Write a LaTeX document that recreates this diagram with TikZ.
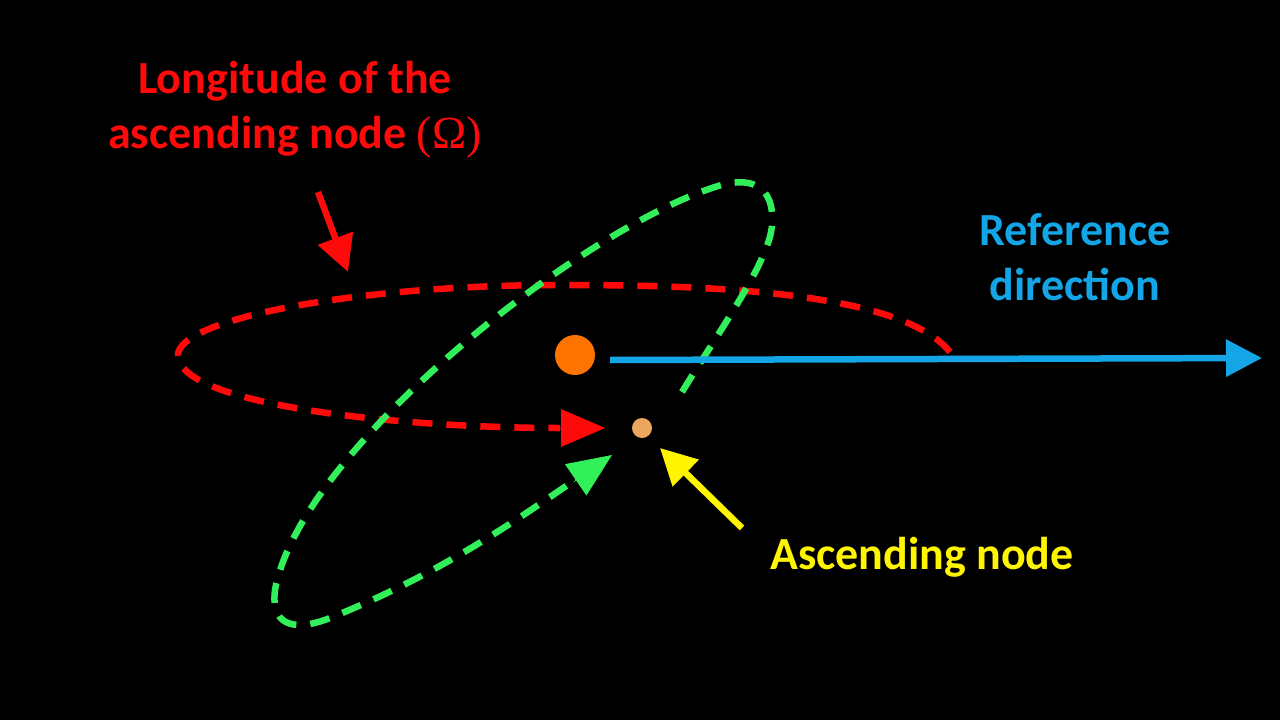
\documentclass[tikz,border=0pt]{standalone}
\usepackage{fontspec}
\setmainfont{Carlito}
\usetikzlibrary{arrows.meta}
\definecolor{rd}{RGB}{255,10,10}
\definecolor{gr}{RGB}{50,240,90}
\definecolor{bl}{RGB}{20,165,230}
\definecolor{yl}{RGB}{255,245,0}
\tikzset{orbit/.style={line width=6.5pt,dash pattern=on 20pt off 14pt},
 lbl/.style={font=\fontsize{46}{55}\selectfont\bfseries,align=center,inner sep=0},
 ptr/.style={line width=6.5pt,-{Triangle[length=36pt,width=36pt]}},
 optr/.style={line width=0pt,-{Triangle[length=44pt,width=38pt]}}}
\begin{document}
\begin{tikzpicture}[x=1pt,y=-1pt]
\fill[black] (0,0) rectangle (1280,720);
\coordinate (rs) at (950,352);
\coordinate (rt) at (605,428);
\draw[orbit,rd] (rs) .. controls (900,290) and (700,285) .. (560,285) .. controls (350,285) and (178,320) .. (178,355) .. controls (178,405) and (400,428) .. (560,428);
\draw[optr,rd] (555,428) -- (rt);
\coordinate (gs) at (682,392);
\coordinate (gt) at (612,455);
\draw[orbit,gr] (gs) .. controls (720,330) and (770,260) .. (772,225) .. controls (775,185) and (750,175) .. (715,187) .. controls (580,230) and (300,450) .. (275,590) .. controls (270,630) and (300,630) .. (330,618) .. controls (450,570) and (530,510) .. (578,478);
\draw[optr,gr] (574,481) -- (gt);
\node[circle,fill=orange!90!red,inner sep=0,minimum size=40pt] (sun) at (575,355) {};
\node[circle,fill=orange!60!brown!70!white,inner sep=0,minimum size=20pt] (pl) at (642,428) {};
\coordinate (be) at (1262,358);
\draw[ptr,bl] (610,360) -- (be);
\node[lbl,rd] (lon) at (295,110) {Longitude of the\\ascending node \textmd{\fontspec{Liberation Serif}(Ω)}};
\coordinate (a1) at (318,192);
\coordinate (a2) at (348,272);
\draw[ptr,rd] (a1) -- (a2);
\node[lbl,bl] (ref) at (1075,257) {Reference\\direction};
\node[lbl,yl] (asc) at (922,557) {Ascending node};
\coordinate (y1) at (742,528);
\coordinate (y2) at (660,448);
\draw[ptr,yl] (y1) -- (y2);
\end{tikzpicture}
\end{document}
